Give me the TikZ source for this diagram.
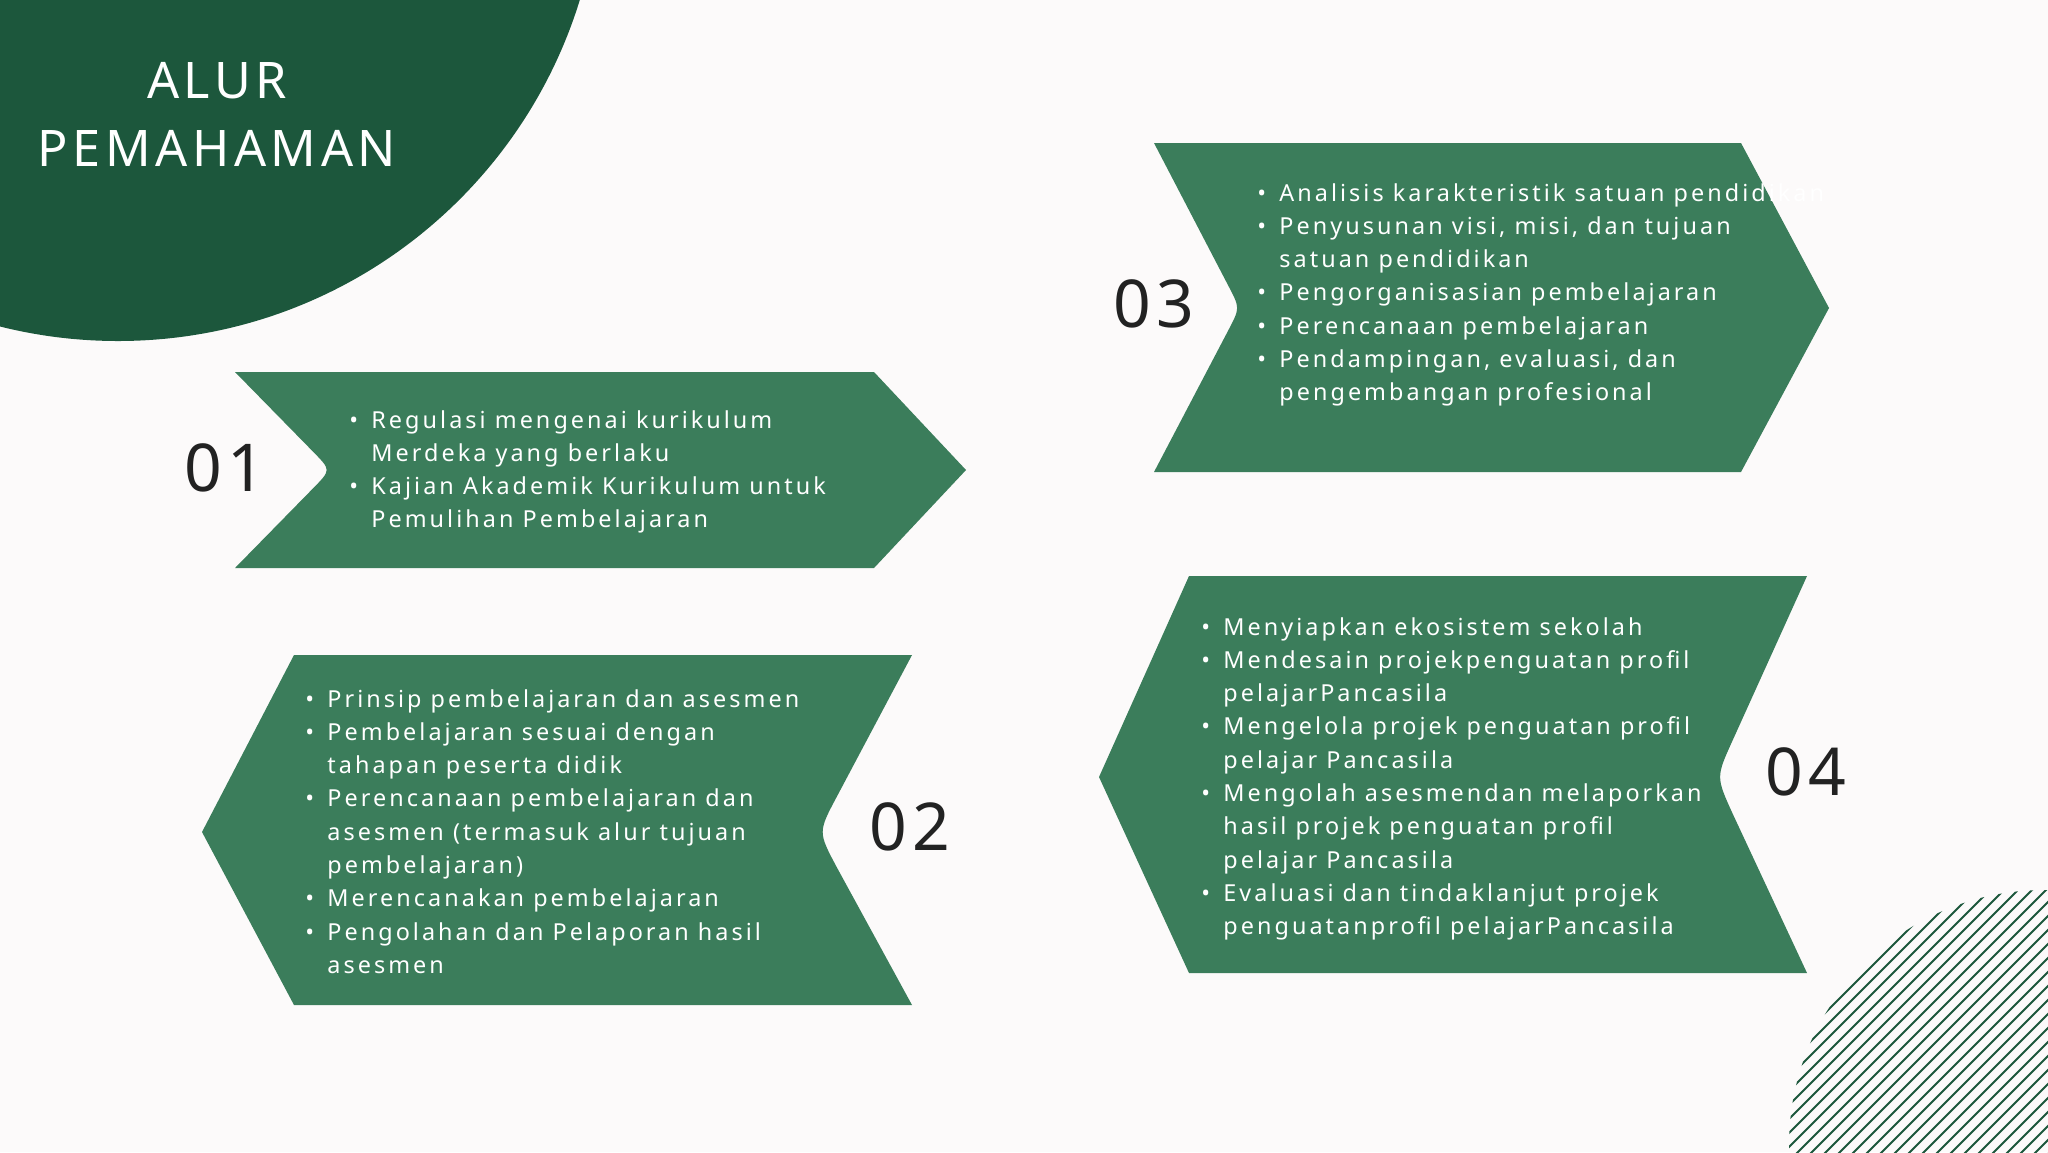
\documentclass[tikz,border=0pt]{standalone}
\usepackage{fontspec}
\setmainfont{Noto Sans}
\newfontfamily\bodyfont{Noto Sans}[LetterSpace=13]
\newfontfamily\titlefont{Noto Sans}[LetterSpace=9]
\newfontfamily\numfont{Noto Sans}[LetterSpace=8]
\definecolor{bgcol}{HTML}{FCFAFA}
\definecolor{circlegreen}{HTML}{1C573C}
\definecolor{chevgreen}{HTML}{3B7D5B}
\definecolor{numcol}{HTML}{222222}
\newcommand{\bitem}[1]{\makebox[11pt][l]{\textbullet}#1}
\newcommand{\cont}[1]{\hspace*{11pt}#1}
\newcommand{\tbox}[1]{\parbox[t]{420pt}{\raggedright #1}}
\tikzset{
  chevron/.style={fill=chevgreen},
  bodytext/.style={anchor=base west, inner sep=0pt, text=white, font=\bodyfont\fontsize{11.7}{16.65}\selectfont},
  numtext/.style={anchor=base, inner sep=0pt, text=numcol, font=\numfont\fontsize{33}{40}\selectfont},
  titletext/.style={anchor=base, inner sep=0pt, text=white, font=\titlefont\fontsize{25.2}{34}\selectfont},
  hatchline/.style={draw=circlegreen, line width=1pt},
}
\begin{document}
\begin{tikzpicture}[x=0.5pt,y=-0.5pt]
\useasboundingbox (0,0) rectangle (2048,1152);
\begin{scope}
\clip (0,0) rectangle (2048,1152);
\fill[bgcol] (0,0) rectangle (2048,1152);
% big circle top-left
\fill[circlegreen] (118,-142) circle[radius=241.5pt];
% hatched quarter circle bottom-right
\begin{scope}
\clip (2044,1145) circle[radius=127.5pt];
\foreach \i in {0,...,32} { \draw[hatchline] ({1650+\i*14},1160) -- ++(500,-500); }
\end{scope}
% chevrons
\fill[chevron] (235,372) -- (874,372) -- (966,470) -- (874,568) -- (235,568)
  -- (313.5,487.9) .. controls (331,470) .. (313.5,452.1) -- cycle;
\fill[chevron] (1154,143) -- (1741,143) -- (1829,308) -- (1741,472) -- (1154,472)
  -- (1228.4,330.1) .. controls (1240,308) .. (1228.4,285.9) -- cycle;
\fill[chevron] (294,655) -- (912,655) -- (836.8,796.7) .. controls (818,832) .. (836.8,867.3)
  -- (912,1005) -- (294,1005) -- (202,832) -- cycle;
\fill[chevron] (1189,576) -- (1807,576) -- (1732.5,740.6) .. controls (1716,777) .. (1732.5,813.4)
  -- (1807,973) -- (1189,973) -- (1099,777) -- cycle;
\end{scope}
% title
\node[titletext] (title) at (217,98) {\parbox[t]{300pt}{\centering ALUR\\PEMAHAMAN}};
% numbers
\node[numtext] (n01) at (225,491) {01};
\node[numtext] (n03) at (1154,327) {03};
\node[numtext] (n02) at (910,850) {02};
\node[numtext] (n04) at (1806,795) {04};
% texts
\node[bodytext] (t01) at (349,428) {\tbox{%
\bitem{Regulasi mengenai kurikulum}\\
\cont{Merdeka yang berlaku}\\
\bitem{Kajian Akademik Kurikulum untuk}\\
\cont{Pemulihan Pembelajaran}}};
\node[bodytext] (t03) at (1257,201) {\tbox{%
\bitem{Analisis karakteristik satuan pendidikan}\\
\bitem{Penyusunan visi, misi, dan tujuan}\\
\cont{satuan pendidikan}\\
\bitem{Pengorganisasian pembelajaran}\\
\bitem{Perencanaan pembelajaran}\\
\bitem{Pendampingan, evaluasi, dan}\\
\cont{pengembangan profesional}}};
\node[bodytext] (t02) at (305,707) {\tbox{%
\bitem{Prinsip pembelajaran dan asesmen}\\
\bitem{Pembelajaran sesuai dengan}\\
\cont{tahapan peserta didik}\\
\bitem{Perencanaan pembelajaran dan}\\
\cont{asesmen (termasuk alur tujuan}\\
\cont{pembelajaran)}\\
\bitem{Merencanakan pembelajaran}\\
\bitem{Pengolahan dan Pelaporan hasil}\\
\cont{asesmen}}};
\node[bodytext] (t04) at (1201,635) {\tbox{%
\bitem{Menyiapkan ekosistem sekolah}\\
\bitem{Mendesain projekpenguatan profil}\\
\cont{pelajarPancasila}\\
\bitem{Mengelola projek penguatan profil}\\
\cont{pelajar Pancasila}\\
\bitem{Mengolah asesmendan melaporkan}\\
\cont{hasil projek penguatan profil}\\
\cont{pelajar Pancasila}\\
\bitem{Evaluasi dan tindaklanjut projek}\\
\cont{penguatanprofil pelajarPancasila}}};
\end{tikzpicture}
\end{document}
